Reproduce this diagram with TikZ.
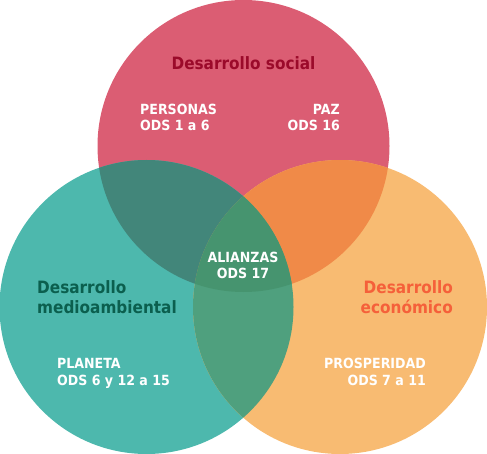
\documentclass[tikz,border=0pt]{standalone}
\usepackage{fontspec}
\setmainfont{DejaVu Sans Condensed}
\definecolor{cred}{HTML}{DB5D73}
\definecolor{cteal}{HTML}{4DB8AD}
\definecolor{corange}{HTML}{F8BB72}
\definecolor{credteal}{HTML}{42867A}
\definecolor{credorange}{HTML}{F08A48}
\definecolor{ctealorange}{HTML}{4FA07E}
\definecolor{ccenter}{HTML}{46946F}
\definecolor{tred}{HTML}{9B0A2A}
\definecolor{tteal}{HTML}{0B5F4E}
\definecolor{torange}{HTML}{F5603A}
\tikzset{
  big/.style={inner sep=0pt,font=\bfseries\fontsize{17}{20}\selectfont},
  small/.style={inner sep=0pt,text=white,font=\bfseries\fontsize{14}{17}\selectfont}
}
\def\Rc{(243.5,146) circle[radius=146]}
\def\Tc{(146.5,307) circle[radius=147]}
\def\Oc{(340,307) circle[radius=147]}
\begin{document}
\begin{tikzpicture}[x=1pt,y=-1pt]
\useasboundingbox (0,0) rectangle (487,454);
\fill[cred] \Rc;
\fill[cteal] \Tc;
\fill[corange] \Oc;
\begin{scope}\clip \Rc; \fill[credteal] \Tc; \fill[credorange] \Oc; \end{scope}
\begin{scope}\clip \Tc; \fill[ctealorange] \Oc; \end{scope}
\begin{scope}\clip \Rc; \clip \Tc; \fill[ccenter] \Oc; \end{scope}
% titles
\node[big,text=tred,anchor=base] (social) at (243.5,70) {Desarrollo social};
\node[big,text=tteal,anchor=base west] (med1) at (37,294) {Desarrollo};
\node[big,text=tteal,anchor=base west] (med2) at (37,313) {medioambiental};
\node[big,text=torange,anchor=base east] (eco1) at (453,294) {Desarrollo};
\node[big,text=torange,anchor=base east] (eco2) at (453,313) {económico};
% white labels
\node[small,anchor=base west] (per1) at (140,115) {PERSONAS};
\node[small,anchor=base west] (per2) at (140,131) {ODS 1 a 6};
\node[small,anchor=base east] (paz1) at (340,115) {PAZ};
\node[small,anchor=base east] (paz2) at (340,131) {ODS 16};
\node[small,anchor=base] (ali1) at (243,262) {ALIANZAS};
\node[small,anchor=base] (ali2) at (243,279) {ODS 17};
\node[small,anchor=base west] (pla1) at (57,368) {PLANETA};
\node[small,anchor=base west] (pla2) at (57,385) {ODS 6 y 12 a 15};
\node[small,anchor=base east] (pro1) at (426,368) {PROSPERIDAD};
\node[small,anchor=base east] (pro2) at (426,385) {ODS 7 a 11};
\end{tikzpicture}
\end{document}
